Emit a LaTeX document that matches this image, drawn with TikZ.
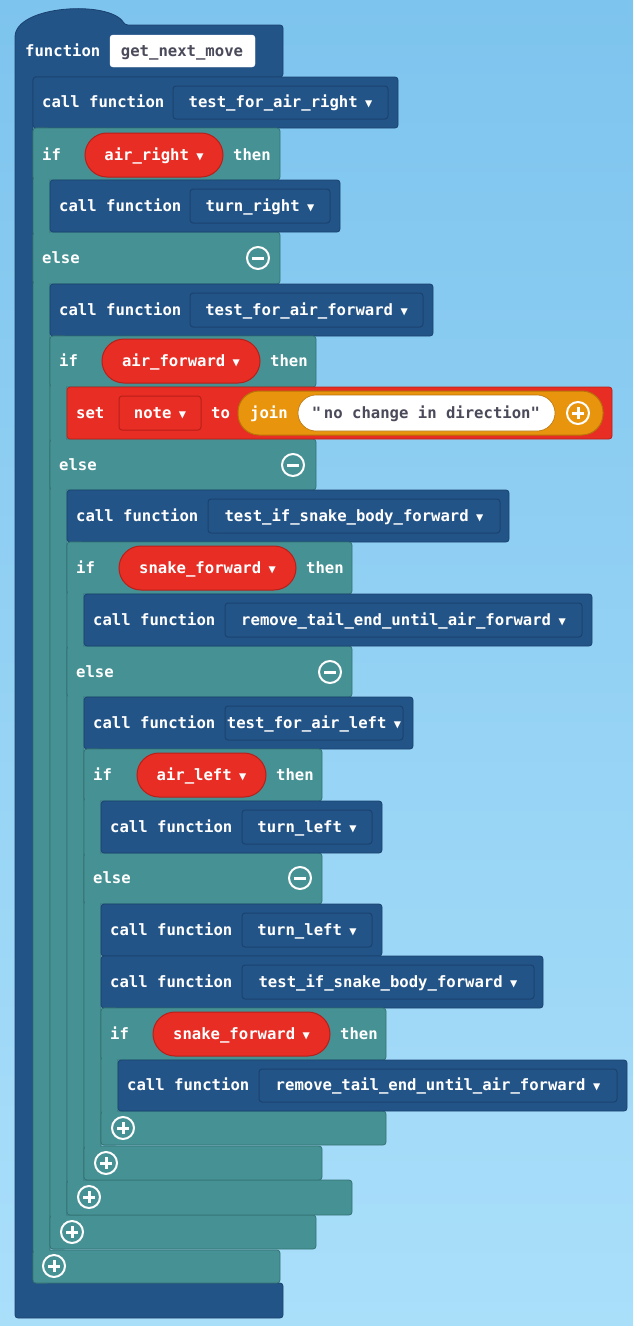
\documentclass[tikz,border=0pt]{standalone}
\usepackage{fontspec}
\setmonofont{DejaVu Sans Mono}
\usetikzlibrary{positioning}
\definecolor{skytop}{HTML}{7DC4EE}
\definecolor{skybot}{HTML}{AADFFA}
\definecolor{fnblue}{HTML}{235487}
\definecolor{fnedge}{HTML}{1A4270}
\definecolor{ifteal}{HTML}{459194}
\definecolor{ifedge}{HTML}{357375}
\definecolor{varred}{HTML}{E82D24}
\definecolor{varedge}{HTML}{B8201A}
\definecolor{joinorg}{HTML}{E8940C}
\definecolor{joinedge}{HTML}{B87308}
\definecolor{strgray}{HTML}{4A4A5A}
\tikzset{
  blk/.style={fill=fnblue, draw=fnedge, line width=0.8pt, rounded corners=3pt},
  tl/.style={fill=ifteal, draw=ifedge, line width=0.8pt, rounded corners=3pt},
  fld/.style={draw=fnedge, line width=1pt, rounded corners=3pt},
  lbl/.style={anchor=base west, inner sep=0pt, text=white, font=\ttfamily\bfseries\fontsize{15.6}{18}\selectfont},
  ring/.style={draw=white, line width=2pt},
}
\newcommand{\dd}{\hspace{-2pt}{\fontsize{12}{12}\selectfont ▼}}
% call block: y-top, y-bottom, x-left, x-right, field-left, field-right, name, text
\newcommand{\callblk}[8]{%
  \draw[blk] (#3,#1) rectangle (#4,#2);
  \draw[fld] (#5,#1+9) rectangle (#6,#2-9);
  \node[lbl] (#7) at (#3+9,{(#1+#2)/2+5}) {call function};
  \node[lbl, anchor=base] (#7f) at ({(#5+#6)/2},{(#1+#2)/2+5}) {#8 \dd};
}
% condition pill: y-center, x-left, x-right, name, text
\newcommand{\pill}[5]{%
  \draw[fill=varred, draw=varedge, line width=1pt, rounded corners=22pt] (#2,#1-22) rectangle (#3,#1+22);
  \node[lbl, anchor=base] (#4) at ({(#2+#3)/2},#1+5) {#5 \dd};
}
\newcommand{\minus}[3]{%
  \draw[ring] (#1,#2) circle (11);
  \draw[white, line width=3pt] (#1-6,#2) -- (#1+6,#2);
  \coordinate (#3) at (#1,#2);
}
\newcommand{\plus}[3]{%
  \draw[ring] (#1,#2) circle (11);
  \draw[white, line width=3pt] (#1-6,#2) -- (#1+6,#2) (#1,#2-6) -- (#1,#2+6);
  \coordinate (#3) at (#1,#2);
}
\begin{document}
\begin{tikzpicture}[x=1pt, y=-1pt]
    \useasboundingbox (0,0) rectangle (633,1326);
    \shade[top color=skytop, bottom color=skybot] (0,0) rectangle (633,1326);

    % function block
    \draw[blk] (15,40) .. controls (15,5) and (110,0) .. (125,25) -- (283,25) -- (283,77) -- (33,77) -- (33,1283) -- (283,1283) -- (283,1318) -- (15,1318) -- cycle;
    \node[lbl] (fn) at (25,56) {function};
    \draw[fill=white, draw=white, rounded corners=3pt] (110,35) rectangle (255,67);
    \node[lbl, text=strgray, anchor=base] (fnname) at (182,56) {get\_next\_move};
    \callblk{77}{128}{33}{398}{173}{388}{c1}{test\_for\_air\_right}

    % if air_right
    \draw[tl] (33,128) rectangle (50,1283);
    \draw[tl] (33,1250) rectangle (280,1283);
    \draw[tl] (33,128) rectangle (280,180);
    \draw[tl] (33,232) rectangle (280,284);
    \fill[ifteal] (34,129) rectangle (49,1282);
    \node[lbl] (if1) at (42,160) {if};
    \pill{155}{85}{223}{p1}{air\_right}
    \node[lbl] (th1) at (233,160) {then};
    \callblk{180}{232}{50}{340}{190}{330}{c2}{turn\_right}
    \node[lbl] (el1) at (42,263) {else};
    \minus{258}{258}{m1}
    \plus{54}{1266}{a1}
    \callblk{284}{336}{50}{433}{190}{423}{c3}{test\_for\_air\_forward}

    % if air_forward
    \draw[tl] (50,336) rectangle (67,1249);
    \draw[tl] (50,1215) rectangle (316,1249);
    \draw[tl] (50,336) rectangle (316,387);
    \draw[tl] (50,439) rectangle (316,490);
    \fill[ifteal] (51,337) rectangle (66,1248);
    \node[lbl] (if2) at (59,366) {if};
    \pill{361}{102}{260}{p2}{air\_forward}
    \node[lbl] (th2) at (270,366) {then};
    \draw[fill=varred, draw=varedge, line width=0.8pt, rounded corners=3pt] (67,387) rectangle (612,439);
    \node[lbl] (set) at (76,418) {set};
    \draw[draw=varedge, line width=1pt, rounded corners=3pt] (119,396) rectangle (201,430);
    \node[lbl, anchor=base] (note) at (160,418) {note \dd};
    \node[lbl] (to) at (211,418) {to};
    \draw[fill=joinorg, draw=joinedge, line width=1pt, rounded corners=21pt] (238,391) rectangle (603,435);
    \node[lbl] (join) at (250,418) {join};
    \draw[fill=white, draw=joinedge, line width=0.6pt, rounded corners=18pt] (298,395) rectangle (555,431);
    \node[lbl, text=strgray, anchor=base] (str) at (426,418) {"\,no change in direction"};
    \plus{578}{413}{a6}
    \node[lbl] (el2) at (59,470) {else};
    \minus{293}{465}{m2}
    \plus{72}{1232}{a2}
    \callblk{490}{542}{67}{509}{208}{500}{c4}{test\_if\_snake\_body\_forward}

    % if snake_forward
    \draw[tl] (67,542) rectangle (84,1215);
    \draw[tl] (67,1180) rectangle (352,1215);
    \draw[tl] (67,542) rectangle (352,594);
    \draw[tl] (67,646) rectangle (352,697);
    \fill[ifteal] (68,543) rectangle (83,1214);
    \node[lbl] (if3) at (76,573) {if};
    \pill{568}{119}{296}{p3}{snake\_forward}
    \node[lbl] (th3) at (306,573) {then};
    \callblk{594}{646}{84}{592}{225}{582}{c5}{remove\_tail\_end\_until\_air\_forward}
    \node[lbl] (el3) at (76,677) {else};
    \minus{330}{672}{m3}
    \plus{89}{1197}{a3}
    \callblk{697}{749}{84}{413}{225}{403}{c6}{test\_for\_air\_left}

    % if air_left
    \draw[tl] (84,749) rectangle (101,1180);
    \draw[tl] (84,1146) rectangle (322,1180);
    \draw[tl] (84,749) rectangle (322,801);
    \draw[tl] (84,853) rectangle (322,904);
    \fill[ifteal] (85,750) rectangle (100,1179);
    \node[lbl] (if4) at (93,780) {if};
    \pill{775}{137}{266}{p4}{air\_left}
    \node[lbl] (th4) at (276,780) {then};
    \callblk{801}{853}{101}{382}{242}{372}{c7}{turn\_left}
    \node[lbl] (el4) at (93,883) {else};
    \minus{300}{878}{m4}
    \plus{106}{1163}{a4}
    \callblk{904}{956}{101}{382}{242}{372}{c8}{turn\_left}
    \callblk{956}{1008}{101}{543}{242}{534}{c9}{test\_if\_snake\_body\_forward}

    % if snake_forward (inner)
    \draw[tl] (101,1008) rectangle (118,1145);
    \draw[tl] (101,1111) rectangle (386,1145);
    \draw[tl] (101,1008) rectangle (386,1060);
    \fill[ifteal] (102,1009) rectangle (117,1144);
    \node[lbl] (if5) at (110,1039) {if};
    \pill{1034}{153}{330}{p5}{snake\_forward}
    \node[lbl] (th5) at (340,1039) {then};
    \callblk{1060}{1111}{118}{627}{259}{617}{c10}{remove\_tail\_end\_until\_air\_forward}
    \plus{123}{1128}{a5}
\end{tikzpicture}
\end{document}
